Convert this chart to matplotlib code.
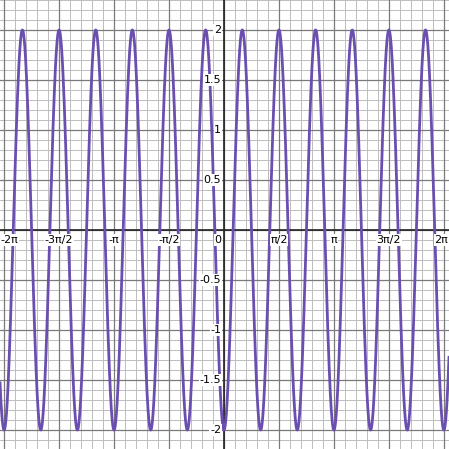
import numpy as np
import matplotlib
matplotlib.use("Agg")
import matplotlib.pyplot as plt

# curve: y = -2 cos(6x)
amp = 2.0
freq = 6.0
x_ticks = [-2, -1.5, -1, -0.5, 0.5, 1, 1.5, 2]  # multiples of pi
x_labels = ["-2π", "-3π/2", "-π", "-π/2", "π/2", "π", "3π/2", "2π"]
y_ticks = [-2, -1.5, -1, -0.5, 0.5, 1, 1.5, 2]
y_labels = ["-2", "-1.5", "-1", "-0.5", "0.5", "1", "1.5", "2"]

xmin, xmax = -6.4, 6.43
ymin, ymax = -2.19, 2.3

fig = plt.figure(figsize=(4.49, 4.49), dpi=100)
ax = fig.add_axes([0, 0, 1, 1])
ax.set_xlim(xmin, xmax)
ax.set_ylim(ymin, ymax)
ax.axis("off")

# minor grid
for k in range(-25, 26):
    ax.axvline(k * np.pi / 10, color="#bdbdbd", lw=0.7, zorder=0)
for k in range(-25, 26):
    ax.axhline(k * 0.1, color="#bdbdbd", lw=0.7, zorder=0)
# major grid
for k in range(-5, 6):
    ax.axvline(k * np.pi / 2, color="#7a7a7a", lw=0.9, zorder=1)
for k in range(-5, 6):
    ax.axhline(k * 0.5, color="#7a7a7a", lw=0.9, zorder=1)
ax.axhline(0, color="#222222", lw=1.2, zorder=2)
ax.axvline(0, color="#222222", lw=1.2, zorder=2)

x = np.linspace(xmin, xmax, 4000)
ax.plot(x, -amp * np.cos(freq * x), color="#6a4fb0", lw=2.0, zorder=3)

bb = dict(facecolor="white", edgecolor="none", pad=0.5)
for t, lab in zip(x_ticks, x_labels):
    ha = "center"
    pos = t * np.pi
    if t == -2:
        ha, pos = "left", xmin + 0.02
    elif t == 2:
        ha, pos = "right", xmax - 0.02
    ax.text(pos, -0.05, lab, ha=ha, va="top", fontsize=8, bbox=bb, zorder=4)
ax.text(-0.08, -0.05, "0", ha="right", va="top", fontsize=8, bbox=bb, zorder=4)
for t, lab in zip(y_ticks, y_labels):
    ax.text(-0.08, t, lab, ha="right", va="center", fontsize=8, bbox=bb, zorder=4)

fig.savefig("out.png", dpi=100)
